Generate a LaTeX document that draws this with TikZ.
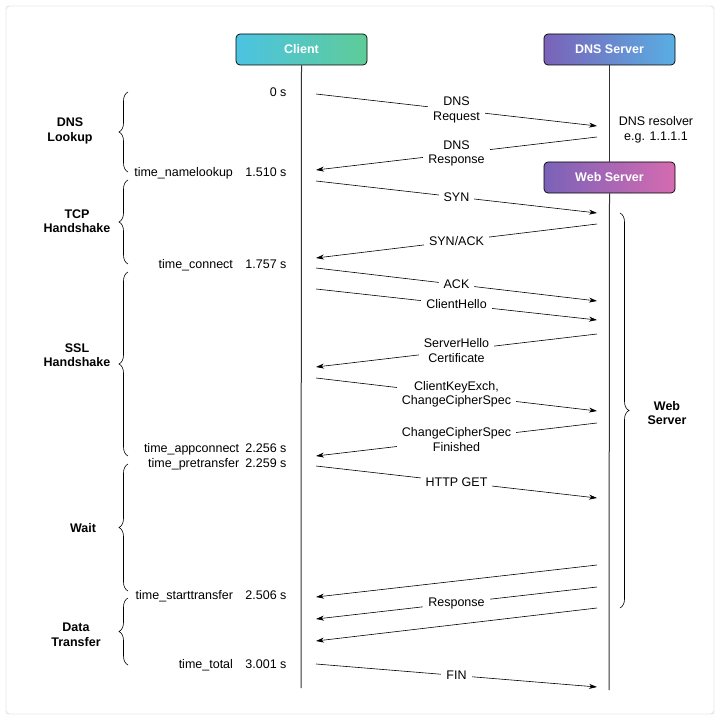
\documentclass[tikz,border=0pt]{standalone}
\usepackage{fontspec}
\setmainfont{Liberation Sans}
\usetikzlibrary{arrows.meta,decorations.pathreplacing}
\definecolor{cA}{HTML}{4CC3E2}\definecolor{cB}{HTML}{5ECC98}
\definecolor{pA}{HTML}{7A62B8}\definecolor{pB}{HTML}{59AEE3}\definecolor{pC}{HTML}{D56BB0}
\begin{document}
\begin{tikzpicture}[x=1pt,y=-1pt,font=\fontsize{12.5}{14.5}\selectfont,
  hdr/.style={draw=black,rounded corners=4pt,minimum width=131pt,minimum height=31pt,text=white,font=\fontsize{12.5}{14.5}\selectfont\bfseries,line width=0.7pt},
  msg/.style={-{Stealth[length=8pt,width=5pt]},line width=0.6pt},
  lab/.style={fill=white,align=center,inner xsep=5pt,inner ysep=1pt},
  life/.style={line width=1pt,draw=black!80},
  br/.style={decorate,decoration={brace,amplitude=9pt},line width=0.6pt},
  bl/.style={font=\fontsize{12.5}{14.5}\selectfont\bfseries,align=center},
  tl/.style={anchor=east}]
\useasboundingbox (0,0) rectangle (720,722);
\draw[black!25,rounded corners=3pt] (6,6) rectangle (714,714);
\node[hdr,left color=cA,right color=cB] (client) at (301.5,49.5) {Client};
\node[hdr,left color=pA,right color=pB] (dns) at (609.5,49.5) {DNS Server};
\node[hdr,left color=pA,right color=pC] (web) at (609.5,177.5) {Web Server};
\coordinate (cend) at (301,688);
\coordinate (wend) at (609,690);
\draw[life] (client.south) -- (cend);
\draw[life] (dns.south) -- (web.north);
\draw[life] (web.south) -- (wend);
\foreach \n/\x/\y in {a1/316/94,a2/597/126,b1/597/137,b2/316/170,c1/316/181,c2/597/213,d1/597/224,d2/316/258,
 e1/316/268,e2/597/301,f1/316/289,f2/597/320,g1/597/334,g2/316/367,h1/316/378,h2/597/411,i1/597/423,i2/316/456,
 j1/316/466,j2/597/498,k1/597/565,k2/316/597,l1/597/587,l2/316/619,m1/597/608,m2/316/641,n1/316/664,n2/597/687}
 {\coordinate (\n) at (\x,\y);}
\draw[msg] (a1) -- node[lab]{DNS\\Request} (a2);
\draw[msg] (b1) -- node[lab]{DNS\\Response} (b2);
\draw[msg] (c1) -- node[lab]{SYN} (c2);
\draw[msg] (d1) -- node[lab]{SYN/ACK} (d2);
\draw[msg] (e1) -- node[lab]{ACK} (e2);
\draw[msg] (f1) -- node[lab]{ClientHello} (f2);
\draw[msg] (g1) -- node[lab]{ServerHello\\Certificate} (g2);
\draw[msg] (h1) -- node[lab]{ClientKeyExch,\\ChangeCipherSpec} (h2);
\draw[msg] (i1) -- node[lab]{ChangeCipherSpec\\Finished} (i2);
\draw[msg] (j1) -- node[lab]{HTTP GET} (j2);
\draw[msg] (k1) -- (k2);
\draw[msg] (l1) -- node[lab]{Response} (l2);
\draw[msg] (m1) -- (m2);
\draw[msg] (n1) -- node[lab]{FIN} (n2);
\node[align=center] (res) at (656,130) {DNS resolver\\e.g. 1.1.1.1};
\node[tl] (t0) at (290,92) {0 s};
\node[tl] (t1) at (290,173) {time\_namelookup\quad 1.510 s};
\node[tl] (t2) at (290,265) {time\_connect\quad 1.757 s};
\node[tl] (t3) at (290,449) {time\_appconnect\enspace 2.256 s};
\node[tl] (t4) at (290,464) {time\_pretransfer\enspace 2.259 s};
\node[tl] (t5) at (290,596) {time\_starttransfer\quad 2.506 s};
\node[tl] (t6) at (290,665) {time\_total\quad 3.001 s};
\draw[br] (128,172) -- (128,92);
\draw[br] (128,264) -- (128,180);
\draw[br] (128,456) -- (128,272);
\draw[br] (128,591) -- (128,464);
\draw[br] (128,665) -- (128,598);
\draw[br] (620,213) -- (620,608);
\node[bl] (l1) at (70,131) {DNS\\Lookup};
\node[bl] (l2) at (77,221) {TCP\\Handshake};
\node[bl] (l3) at (77,355) {SSL\\Handshake};
\node[bl] (l4) at (83,528) {Wait};
\node[bl] (l5) at (76,635) {Data\\Transfer};
\node[bl] (l6) at (667,413) {Web\\Server};
\end{tikzpicture}
\end{document}
